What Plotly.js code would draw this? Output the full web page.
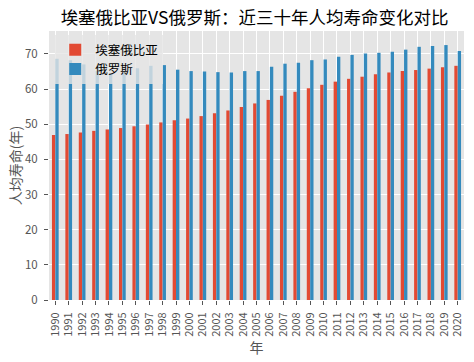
<!DOCTYPE html>
<html>
<head>
<meta charset="utf-8">
<script src="https://cdn.plot.ly/plotly-3.0.1.min.js"></script>
<style>html,body{margin:0;padding:0;background:#fff;}#chart{width:474px;height:362px;}</style>
</head>
<body>
<div id="chart"></div>
<script>
const years = ["1990","1991","1992","1993","1994","1995","1996","1997","1998","1999","2000","2001","2002","2003","2004","2005","2006","2007","2008","2009","2010","2011","2012","2013","2014","2015","2016","2017","2018","2019","2020"];
const ethiopia = [46.9,47.2,47.6,48.1,48.5,48.9,49.4,49.9,50.5,51.1,51.6,52.3,53.1,53.9,54.9,55.9,56.9,58.1,59.2,60.2,61.2,62.1,62.9,63.5,64.2,64.7,65.1,65.4,65.8,66.2,66.6];
const russia = [68.6,68.2,67.0,65.1,64.5,64.6,65.9,66.6,66.8,65.5,65.1,65.0,64.8,64.7,65.1,65.1,66.3,67.2,67.5,68.2,68.4,69.2,69.7,70.1,70.3,70.6,71.2,72.0,72.2,72.5,70.8];
const names = ["埃塞俄比亚","俄罗斯"];
const FONT = '"Noto Sans CJK SC", "DejaVu Sans", sans-serif';

const traces = [
  {type:'bar', name:names[0], x:years, y:ethiopia, marker:{color:'#E24A33'}},
  {type:'bar', name:names[1], x:years, y:russia, marker:{color:'#348ABD'}}
];
const layout = {
  width:474, height:362,
  margin:{l:49, r:10, t:31, b:62, pad:0},
  paper_bgcolor:'#ffffff', plot_bgcolor:'#E5E5E5',
  font:{family:FONT, color:'#555555', size:11},
  barmode:'group', bargap:0.5, bargroupgap:0,
  title:{text:'埃塞俄比亚VS俄罗斯：近三十年人均寿命变化对比', font:{family:FONT, size:17.5, color:'#000000'}, x:0.537, xanchor:'center', y:0.952, yanchor:'middle'},
  xaxis:{type:'category', range:[-0.47,30.47], tickangle:-90, showgrid:true, gridcolor:'#ffffff', gridwidth:1,
         ticks:'outside', ticklen:4, tickcolor:'#555555', ticklabelstandoff:3, tickfont:{family:FONT, size:11, color:'#555555'},
         title:{text:'年', font:{family:FONT, size:14, color:'#555555'}, standoff:2}, zeroline:false, showline:false},
  yaxis:{range:[0,76.5], dtick:10, tick0:0, showgrid:true, gridcolor:'#ffffff', gridwidth:1,
         ticks:'outside', ticklen:4, tickcolor:'#555555', ticklabelstandoff:4, tickfont:{family:FONT, size:11.5, color:'#555555'},
         title:{text:'人均寿命(年)', font:{family:FONT, size:14, color:'#555555'}, standoff:0}, zeroline:false, showline:false},
  legend:{x:0.015, y:0.985, xanchor:'left', yanchor:'top', bgcolor:'rgba(229,229,229,0.8)', bordercolor:'rgba(0,0,0,0)', borderwidth:0,
          font:{family:FONT, size:12.5, color:'#000000'}, traceorder:'normal', tracegroupgap:2},
  showlegend:true
};
Plotly.newPlot('chart', traces, layout, {displayModeBar:false, staticPlot:true});
</script>
</body>
</html>
